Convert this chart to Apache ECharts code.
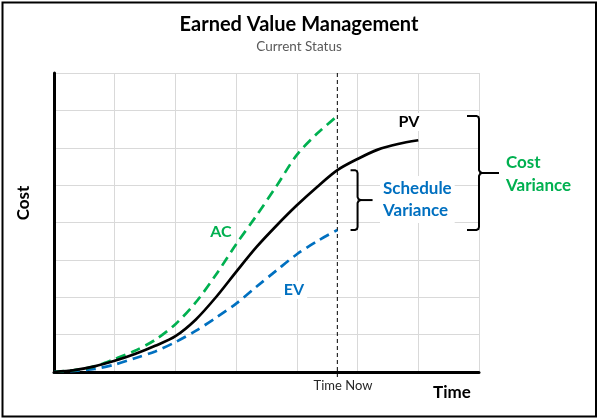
<!DOCTYPE html>
<html>
<head>
<meta charset="utf-8">
<script src="https://cdn.jsdelivr.net/npm/echarts/dist/echarts.min.js"></script>
<style>
  html, body { margin: 0; padding: 0; background: #fff; }
  #chart { width: 598px; height: 418px; }
</style>
</head>
<body>
<div id="chart"></div>
<script>
// time periods and cumulative values
const time = [0, 1, 2, 3, 4, 5, 6, 7, 8, 9, 10, 11, 12, 13, 14, 15, 16, 17, 18];
const pv = [0, 0.5, 1.5, 3, 4.8, 7, 9.6, 14, 20, 26.8, 33.4, 39.2, 44.6, 49.5, 54, 57, 59.5, 61, 62];
const ac = [0, 0.5, 1.5, 3.5, 5.7, 8.6, 12.8, 18.6, 26, 34.2, 41.8, 49.8, 58.1, 63.8, 68.5];
const ev = [0, 0.3, 0.8, 2, 3.7, 5.5, 8, 11, 14.5, 18.3, 22.8, 27.2, 31.5, 35, 38];
const timeNow = 14;
const xMax = 21, xStep = 3;
const yMax = 80, yStep = 10;
// braces: x position, low value, high value
const braceX = [15, 21];
const braceLow = [ev[timeNow], ev[timeNow]];
const braceHigh = [pv[timeNow], ac[timeNow]];

const GREEN = '#00B050', BLUE = '#0070C0';
const FONT = 'Lato, "Open Sans", sans-serif';

const pairs = arr => arr.map((v, i) => [time[i], v]);

const myChart = echarts.init(document.getElementById('chart'));

// plain text helper; bold unless told otherwise
function txt(text, x, y, size, color, extra) {
  extra = extra || {};
  const style = {
    text: text, fill: color, align: extra.align || 'center', verticalAlign: 'middle',
    font: (extra.normal ? '' : 'bold ') + size + 'px ' + FONT
  };
  if (extra.lineHeight) style.lineHeight = extra.lineHeight;
  if (extra.box) { style.backgroundColor = '#fff'; style.padding = extra.box; }
  const el = { type: 'text', x: x, y: y, silent: true, z: 100, style: style };
  if (extra.rotation) el.rotation = extra.rotation;
  return el;
}

const option = {
  animation: false,
  grid: { left: 54, right: 119, top: 73, bottom: 46 },
  xAxis: {
    type: 'value', min: 0, max: xMax, interval: xStep,
    axisLine: { show: true, lineStyle: { color: '#000', width: 3 } },
    axisTick: { show: false }, axisLabel: { show: false },
    splitLine: { show: true, lineStyle: { color: '#d9d9d9', width: 1 } }
  },
  yAxis: {
    type: 'value', min: 0, max: yMax, interval: yStep,
    axisLine: { show: true, lineStyle: { color: '#000', width: 3 } },
    axisTick: { show: false }, axisLabel: { show: false },
    splitLine: { show: true, lineStyle: { color: '#d9d9d9', width: 1 } }
  },
  series: [
    {
      name: 'EV', type: 'line', smooth: 0.3, symbol: 'none',
      data: pairs(ev),
      lineStyle: { color: BLUE, width: 2.7, type: [10, 6] }
    },
    {
      name: 'AC', type: 'line', smooth: 0.3, symbol: 'none',
      data: pairs(ac),
      lineStyle: { color: GREEN, width: 2.7, type: [10, 6] }
    },
    {
      name: 'PV', type: 'line', smooth: 0.3, symbol: 'none',
      data: pairs(pv),
      lineStyle: { color: '#000', width: 2.7 }
    },
    {
      // "time now" marker
      type: 'custom', silent: true,
      data: [[timeNow]],
      renderItem: function (params, api) {
        const top = api.coord([api.value(0), yMax]);
        const bot = api.coord([api.value(0), 0]);
        return {
          type: 'line',
          shape: { x1: top[0], y1: top[1], x2: bot[0], y2: bot[1] + 5 },
          style: { stroke: '#000', lineWidth: 1, lineDash: [4, 3] }
        };
      }
    },
    {
      // curly braces
      type: 'custom', silent: true,
      data: braceX.map((x, i) => [x, braceLow[i], braceHigh[i], i === 0 ? 7 : 12, i === 0 ? 15 : 20]),
      renderItem: function (params, api) {
        const top = api.coord([api.value(0), api.value(2)]);
        const bot = api.coord([api.value(0), api.value(1)]);
        const vx = top[0], t = top[1], b = bot[1], m = (t + b) / 2;
        const tip = api.value(3), nose = api.value(4);
        const st = { stroke: '#000', lineWidth: 2, fill: null };
        return {
          type: 'group',
          children: [
            {
              type: 'polyline',
              shape: { points: [[vx - tip, t], [vx - 2.5, t], [vx - 0.6, t + 1], [vx, t + 3],
                                [vx, m - 3], [vx + 1, m - 1], [vx + 3, m],
                                [vx + 1, m + 1], [vx, m + 3],
                                [vx, b - 3], [vx - 0.6, b - 1], [vx - 2.5, b], [vx - tip, b]] },
              style: st
            },
            {
              type: 'line',
              shape: { x1: vx + 2, y1: m, x2: vx + nose, y2: m },
              style: st
            }
          ]
        };
      }
    }
  ],
  graphic: [
    { type: 'rect', silent: true, shape: { x: 2.5, y: 2.5, width: 593.5, height: 414 },
      style: { fill: null, stroke: '#000', lineWidth: 2 } },
    txt('Earned Value Management', 299, 25, 20, '#000'),
    txt('Current Status', 299, 47, 13.5, '#595959', { normal: true }),
    txt('Cost', 24, 203, 17, '#000', { rotation: Math.PI / 2 }),
    txt('Time', 452, 393, 17, '#000'),
    txt('Time Now', 343, 386, 13, '#262626', { normal: true }),
    txt('PV', 409, 122, 16, '#000', { box: [1, 3] }),
    txt('AC', 221, 232, 16, GREEN),
    txt('EV', 294, 290, 16, BLUE, { box: [1, 3] }),
    txt('Schedule\nVariance', 380, 199.5, 17, BLUE, { align: 'left', lineHeight: 22.5, box: [1, 3] }),
    txt('Cost\nVariance', 506, 174, 17, GREEN, { align: 'left', lineHeight: 23.5 })
  ]
};

myChart.setOption(option);
</script>
</body>
</html>
